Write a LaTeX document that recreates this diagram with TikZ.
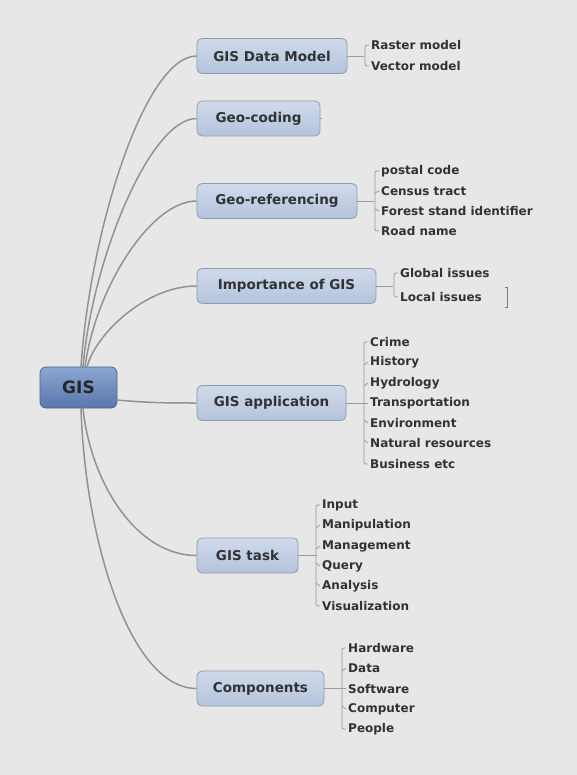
\documentclass[tikz,border=0pt]{standalone}
\usepackage{fontspec}
\setmainfont{DejaVu Sans}
\definecolor{bg}{HTML}{E7E7E7}
\definecolor{txt}{HTML}{303236}
\definecolor{ln}{HTML}{9A9A9A}
\definecolor{mtop}{HTML}{D0DAEA}
\definecolor{mbot}{HTML}{B4C3DC}
\definecolor{mbord}{HTML}{8E9CB2}
\definecolor{rtop}{HTML}{8CA6D2}
\definecolor{rbot}{HTML}{5877AC}
\definecolor{rbord}{HTML}{4B6797}
\tikzset{
  mainbox/.style={draw=mbord, line width=0.8pt, rounded corners=5pt, top color=mtop, bottom color=mbot,
    minimum height=35pt, inner sep=0pt, text=txt, font=\fontsize{13.5}{15}\selectfont\bfseries},
  rootbox/.style={draw=rbord, line width=0.8pt, rounded corners=6pt, top color=rtop, bottom color=rbot,
    minimum width=77pt, minimum height=41pt, inner sep=0pt, text=black!85, font=\fontsize{17}{19}\selectfont\bfseries},
  item/.style={anchor=west, inner sep=0pt, text=txt, font=\fontsize{12}{13}\selectfont\bfseries},
  branch/.style={draw=ln!95!black, line width=1.5pt},
  twig/.style={draw=ln, line width=0.7pt},
  brk/.style={draw=ln, line width=0.8pt},
}
\begin{document}
\begin{tikzpicture}[x=1pt,y=-1pt]
\fill[bg] (0,0) rectangle (577,775);
\useasboundingbox (0,0) rectangle (577,775);

% main nodes
\node[rootbox] (root) at (78.5,387.5) {GIS};
\node[mainbox, minimum width=150pt] (dm) at (272,56) {GIS Data Model};
\node[mainbox, minimum width=123pt] (gc) at (258.5,118.5) {Geo-coding};
\node[mainbox, minimum width=160pt] (gr) at (277,201) {Geo-referencing};
\node[mainbox, minimum width=179pt] (im) at (286.5,286) {Importance of GIS};
\node[mainbox, minimum width=149pt] (ap) at (271.5,403) {GIS application};
\node[mainbox, minimum width=101pt] (tk) at (247.5,555.5) {GIS task};
\node[mainbox, minimum width=127pt] (cp) at (260.5,688.5) {Components};

% branches
\coordinate (s1) at (81,367);
\coordinate (s2) at (83,367);
\coordinate (s3) at (85,367);
\coordinate (s4) at (87,367);
\coordinate (s5) at (83,408);
\coordinate (s6) at (81,408);
\draw[branch] (s1) .. controls (90,230) and (145,56) .. (dm.west);
\draw[branch] (s2) .. controls (92,260) and (150,118.5) .. (gc.west);
\draw[branch] (s3) .. controls (95,290) and (150,201) .. (gr.west);
\draw[branch] (s4) .. controls (95,335) and (145,286) .. (im.west);
\draw[branch] (root.east |- 0,400) .. controls (150,403) and (170,403) .. (ap.west);
\draw[branch] (s5) .. controls (90,480) and (135,555.5) .. (tk.west);
\draw[branch] (s6) .. controls (85,540) and (130,688.5) .. (cp.west);

% sub-item groups
% GIS Data Model
\coordinate (b1) at (364,56);
\draw[twig] (dm.east) -- (b1);
\draw[brk] (369,45) .. controls (365,45) .. (365,50) -- (365,61) .. controls (365,66) .. (369,66);
\node[item] (dm1) at (371,45) {Raster model};
\node[item] (dm2) at (371,66) {Vector model};

% Geo-coding short stub
\coordinate (b0) at (322,118.5);
\draw[twig] (gc.east) -- (b0);

% Geo-referencing
\coordinate (b2) at (374,201);
\draw[twig] (gr.east) -- (b2);
\draw[brk] (379,171) .. controls (375,171) .. (375,176) -- (375,226) .. controls (375,231) .. (379,231);
\draw[brk] (375,193) -- (379,191);
\draw[brk] (375,209) -- (379,211);
\node[item] (gr1) at (381,171) {postal code};
\node[item] (gr2) at (381,191) {Census tract};
\node[item] (gr3) at (381,211) {Forest stand identifier};
\node[item] (gr4) at (381,231) {Road name};

% Importance
\coordinate (b3) at (393,286);
\draw[twig] (im.east) -- (b3);
\draw[brk] (398,273) .. controls (394,273) .. (394,278) -- (394,292) .. controls (394,297) .. (398,297);
\node[item] (im1) at (400,273) {Global issues};
\node[item] (im2) at (400,297) {Local issues};
\draw[draw=ln!80!black, line width=0.8pt] (505,287) -- (507,287) -- (507,307) -- (505,307);

% GIS application
\coordinate (b4) at (368,403);
\draw[twig] (ap.east) -- (b4);
\draw[brk] (368,342) .. controls (364,342) .. (364,347) -- (364,459) .. controls (364,464) .. (368,464);
\foreach \yy in {362,383}{\draw[brk] (364,\yy+3) -- (368,\yy);}
\foreach \yy in {423,443}{\draw[brk] (364,\yy-3) -- (368,\yy);}
\node[item] (ap1) at (370,342) {Crime};
\node[item] (ap2) at (370,362) {History};
\node[item] (ap3) at (370,383) {Hydrology};
\node[item] (ap4) at (370,403) {Transportation};
\node[item] (ap5) at (370,423) {Environment};
\node[item] (ap6) at (370,443) {Natural resources};
\node[item] (ap7) at (370,464) {Business etc};

% GIS task
\coordinate (b5) at (317,555.5);
\draw[twig] (tk.east) -- (b5);
\draw[brk] (320,505) .. controls (316,505) .. (316,510) -- (316,601) .. controls (316,606) .. (320,606);
\foreach \yy in {525,546}{\draw[brk] (316,\yy+3) -- (320,\yy);}
\foreach \yy in {566,586}{\draw[brk] (316,\yy-3) -- (320,\yy);}
\node[item] (tk1) at (322,505) {Input};
\node[item] (tk2) at (322,525) {Manipulation};
\node[item] (tk3) at (322,546) {Management};
\node[item] (tk4) at (322,566) {Query};
\node[item] (tk5) at (322,586) {Analysis};
\node[item] (tk6) at (322,606) {Visualization};

% Components
\coordinate (b6) at (346,688.5);
\draw[twig] (cp.east) -- (b6);
\draw[brk] (346,648) .. controls (342,648) .. (342,653) -- (342,724) .. controls (342,729) .. (346,729);
\draw[brk] (342,671) -- (346,668);
\draw[brk] (342,706) -- (346,709);
\node[item] (cp1) at (348,648) {Hardware};
\node[item] (cp2) at (348,668) {Data};
\node[item] (cp3) at (348,689) {Software};
\node[item] (cp4) at (348,709) {Computer};
\node[item] (cp5) at (348,729) {People};
\end{tikzpicture}
\end{document}
